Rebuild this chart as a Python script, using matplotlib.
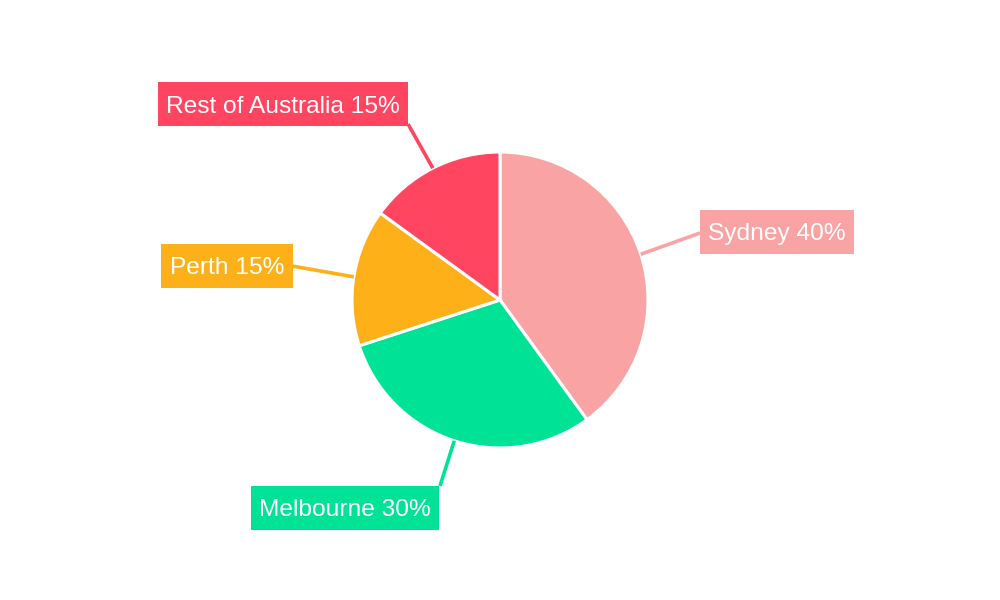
import numpy as np
import matplotlib
matplotlib.use("Agg")
import matplotlib.pyplot as plt
from matplotlib.patches import Rectangle

# Data
categories = ["Sydney", "Melbourne", "Perth", "Rest of Australia"]
shares = [40, 30, 15, 15]
colors = ["#F9A3A4", "#00E396", "#FEB019", "#FF4560"]

# Layout (pixel coordinates, y measured from top)
center_px = (500, 300)
radius_px = 148
label_centers_px = [(777, 231.5), (345, 507.5), (227, 265.5), (283, 104)]
line_ends_px = [(700, 233), (440, 486), (292, 266), (408, 124)]
box_h = 44
box_padx = 8.5
font_px = 24.5

W, H = 1000, 600
fig = plt.figure(figsize=(10, 6), dpi=100)
ax = fig.add_axes([0, 0, 1, 1])
cx, cy = center_px[0], H - center_px[1]

wedges, _ = ax.pie(shares, colors=colors, startangle=90, counterclock=False,
                   center=(cx, cy), radius=radius_px,
                   wedgeprops=dict(edgecolor="white", linewidth=2.2))
ax.set_xlim(0, W)
ax.set_ylim(0, H)
ax.set_aspect("equal")
ax.axis("off")

renderer = fig.canvas.get_renderer()
total = sum(shares)
cum = 0
for cat, val, col, (lx, ly), (ex, ey) in zip(categories, shares, colors,
                                               label_centers_px, line_ends_px):
    mid = (cum + val / 2) / total * 360.0
    cum += val
    ang = np.deg2rad(90 - mid)
    sx = cx + radius_px * np.cos(ang)
    sy = cy + radius_px * np.sin(ang)
    ax.plot([sx, ex], [sy, H - ey], color=col, lw=2.6, solid_capstyle="butt", zorder=1)
    cap = 0.716 * font_px
    t = ax.text(lx, H - ly - cap / 2, f"{cat} {val}%", ha="center", va="baseline",
                fontsize=font_px * 72 / 100, color="white", family="Liberation Sans",
                zorder=3)
    bb = t.get_window_extent(renderer)
    w = bb.width + 2 * box_padx
    ax.add_patch(Rectangle((lx - w / 2, H - ly - box_h / 2), w, box_h,
                           facecolor=col, edgecolor="none", zorder=2))

fig.savefig("out.png", dpi=100, facecolor="white")
